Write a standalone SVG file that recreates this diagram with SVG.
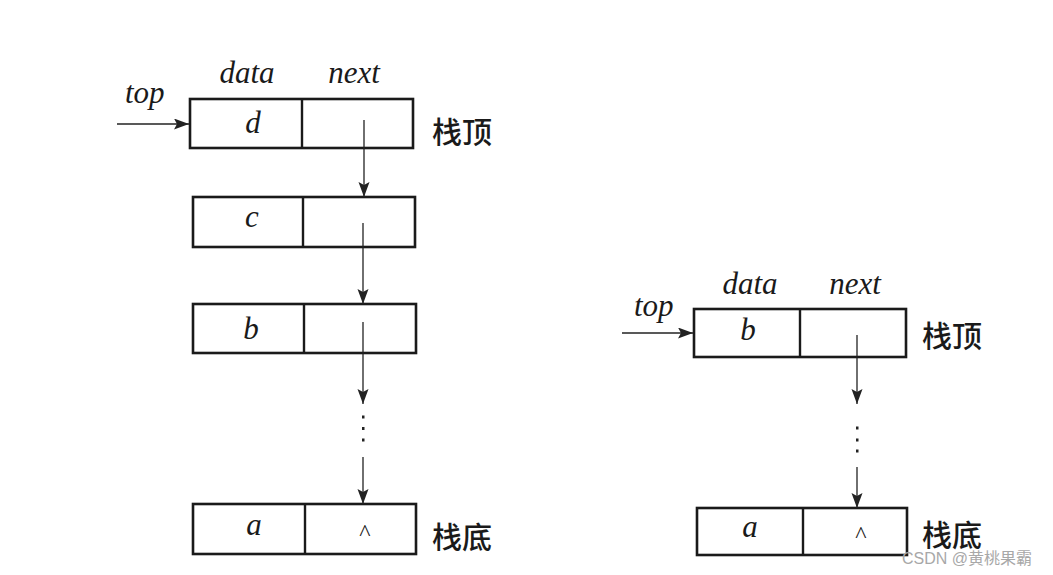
<svg xmlns="http://www.w3.org/2000/svg" width="1053" height="575" viewBox="0 0 1053 575">
<defs>
<style>
.box{fill:#fff;stroke:#1a1a1a;stroke-width:2.6}
.div{stroke:#1a1a1a;stroke-width:2.4}
.arr{stroke:#222;stroke-width:1.3;fill:none}
.lbl{font-family:"Liberation Serif","DejaVu Serif",serif;font-style:italic;font-size:31px;fill:#1a1a1a;text-anchor:middle}
.lbls{font-family:"Liberation Serif","DejaVu Serif",serif;font-style:italic;font-size:31px;fill:#1a1a1a}
.cjk{font-family:"Noto Sans CJK SC","Noto Sans CJK JP",sans-serif;font-size:30px;font-weight:500;fill:#1a1a1a}
.nil{font-family:"Liberation Serif","DejaVu Serif",serif;font-size:24px;fill:#1a1a1a;text-anchor:middle}
.dot{fill:#222}
.wm{font-family:"Liberation Sans","Noto Sans CJK SC",sans-serif;font-size:16px;fill:#a8a8a8}
</style>
<marker id="ah" markerUnits="userSpaceOnUse" markerWidth="16" markerHeight="12" refX="15" refY="5.5" orient="auto">
<path d="M0,0 L15,5.5 L0,11 L3,5.5 Z" fill="#222"/>
</marker>
</defs>
<rect width="1053" height="575" fill="#fff"/>

<g id="left-headers">
<text class="lbls" x="125" y="103">top</text>
<text class="lbl" x="247" y="83">data</text>
<text class="lbl" x="354" y="83">next</text>
</g>

<g id="node-d">
<rect class="box" x="190" y="99" width="223" height="49"/>
<line class="div" x1="302" y1="99" x2="302" y2="148"/>
<text class="lbl" x="253" y="133">d</text>
<text class="cjk" x="432" y="143">栈顶</text>
</g>

<g id="node-c">
<rect class="box" x="193" y="197" width="222" height="50"/>
<line class="div" x1="303" y1="197" x2="303" y2="247"/>
<text class="lbl" x="252" y="227">c</text>
</g>

<g id="node-b">
<rect class="box" x="193" y="304" width="223" height="49"/>
<line class="div" x1="304" y1="304" x2="304" y2="353"/>
<text class="lbl" x="251" y="339">b</text>
</g>

<g id="left-dots">
<rect class="dot" x="362" y="415.5" width="2.5" height="3"/>
<rect class="dot" x="362" y="427" width="2.5" height="3"/>
<rect class="dot" x="362" y="438.5" width="2.5" height="3"/>
</g>

<g id="node-a">
<rect class="box" x="193" y="504" width="223" height="50"/>
<line class="div" x1="305" y1="504" x2="305" y2="554"/>
<text class="lbl" x="254" y="535">a</text>
<text class="nil" x="365" y="540">^</text>
<text class="cjk" x="432" y="548">栈底</text>
</g>

<g id="right-headers">
<text class="lbls" x="634" y="316">top</text>
<text class="lbl" x="750" y="294">data</text>
<text class="lbl" x="855" y="294">next</text>
</g>

<g id="node-b2">
<rect class="box" x="694" y="309" width="212" height="48"/>
<line class="div" x1="800" y1="309" x2="800" y2="357"/>
<text class="lbl" x="748" y="340">b</text>
<text class="cjk" x="922" y="347">栈顶</text>
</g>

<g id="right-dots">
<rect class="dot" x="856" y="426.5" width="2.5" height="3"/>
<rect class="dot" x="856" y="438.5" width="2.5" height="3"/>
<rect class="dot" x="856" y="449.5" width="2.5" height="3"/>
</g>

<g id="node-a2">
<rect class="box" x="697" y="508" width="210" height="47"/>
<line class="div" x1="803" y1="508" x2="803" y2="555"/>
<text class="lbl" x="750" y="537">a</text>
<text class="nil" x="861" y="542">^</text>
<text class="cjk" x="922" y="546">栈底</text>
</g>

<g id="connectors">
<line class="arr" x1="117" y1="124" x2="189" y2="124" marker-end="url(#ah)"/>
<line class="arr" x1="364" y1="120" x2="364" y2="197" marker-end="url(#ah)"/>
<line class="arr" x1="363" y1="223" x2="363" y2="304" marker-end="url(#ah)"/>
<line class="arr" x1="363" y1="322" x2="363" y2="404" marker-end="url(#ah)"/>
<line class="arr" x1="363" y1="457" x2="363" y2="504" marker-end="url(#ah)"/>
<line class="arr" x1="622" y1="333" x2="693" y2="333" marker-end="url(#ah)"/>
<line class="arr" x1="857" y1="335" x2="857" y2="404" marker-end="url(#ah)"/>
<line class="arr" x1="857" y1="467" x2="857" y2="508" marker-end="url(#ah)"/>
</g>

<text class="wm" x="902" y="564">CSDN @黄桃果霸</text>
</svg>
